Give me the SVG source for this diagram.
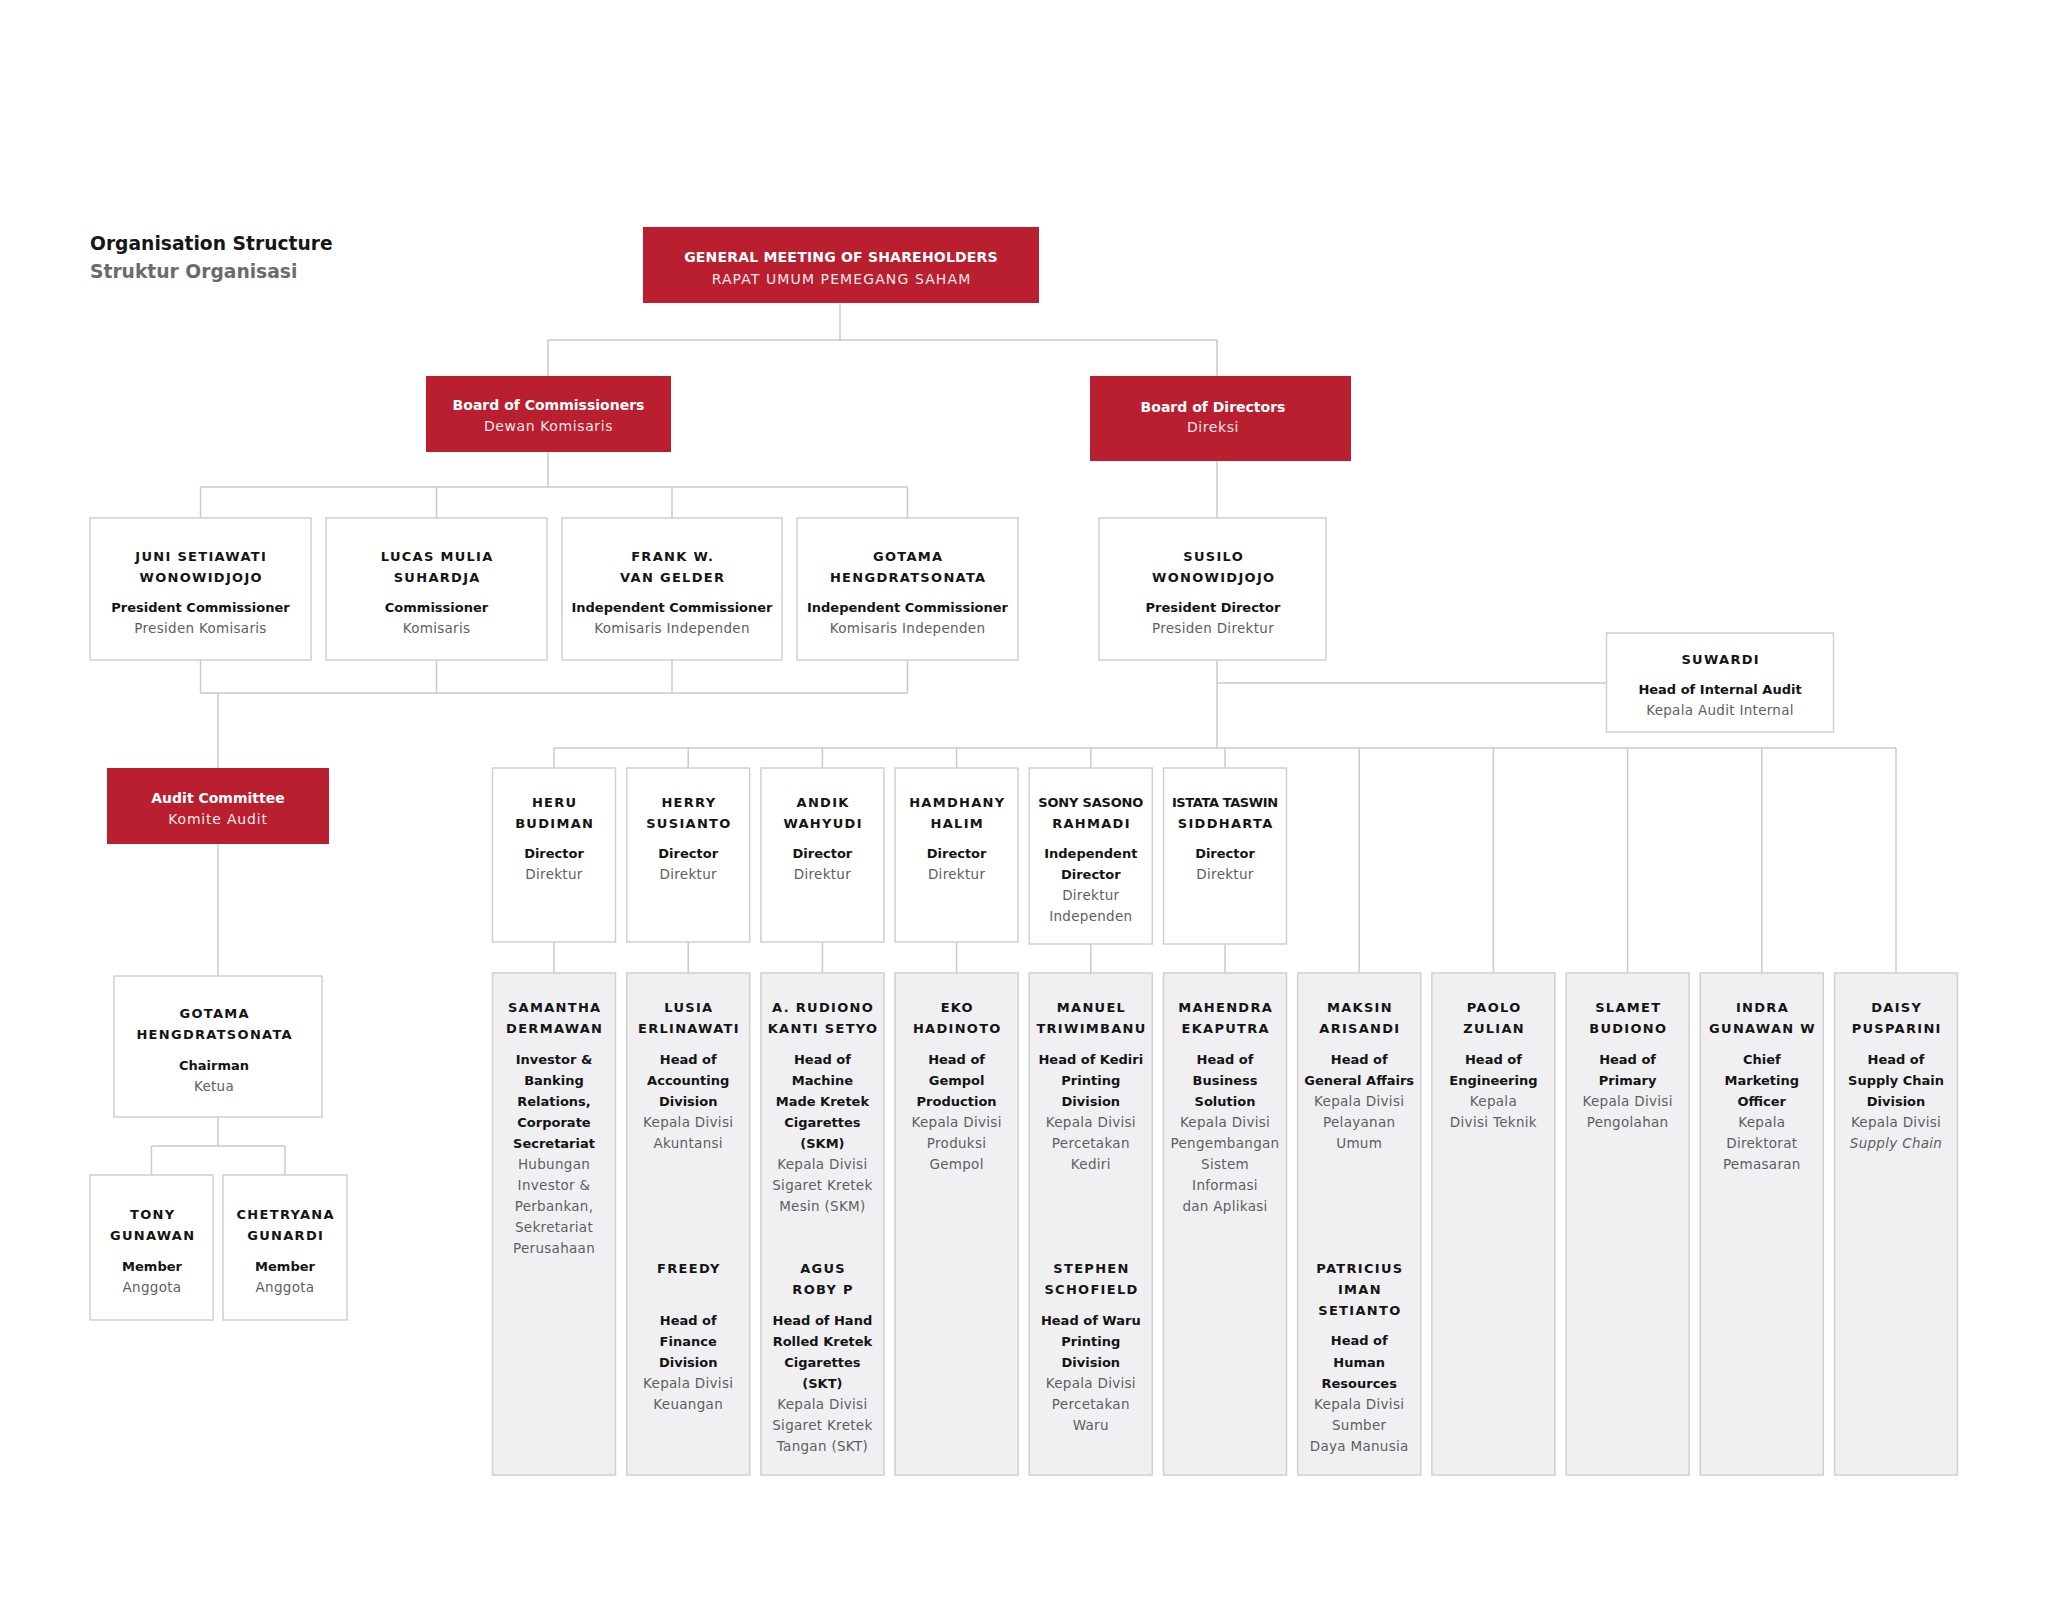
<svg xmlns="http://www.w3.org/2000/svg" width="2048" height="1622" viewBox="0 0 2048 1622">
<style>
text{font-family:'DejaVu Sans',sans-serif;text-anchor:middle}
.conn{fill:none;stroke:#cacaca;stroke-width:1.5}
.red{fill:#B91F2F}
.wb{fill:#fff;stroke:#d0d0d0;stroke-width:1.5}
.gb{fill:#f0f0f2;stroke:#cfcfcf;stroke-width:1.5}
.nm{font-size:13px;font-weight:700;letter-spacing:1.3px;fill:#141414}
.rl{font-size:13px;font-weight:700;fill:#141414}
.id{font-size:13.5px;letter-spacing:0.3px;fill:#5e5e5e}
.rt1{font-size:14px;font-weight:700;fill:#fff}
.rt2{font-size:14px;fill:#fff;fill-opacity:.92}
.ttl{font-size:18.7px;font-weight:700;text-anchor:start}
</style>
<rect width="2048" height="1622" fill="#fff"/>
<g id="title">
<text class="ttl" x="90" y="250" fill="#161616">Organisation Structure</text>
<text class="ttl" x="90" y="278" fill="#6b6b6b">Struktur Organisasi</text>
</g>
<g id="connectors" class="conn">
<path d="M840 303V340M548 340H1217M548 340V376M1217 340V376"/>
<path d="M548 452V487M200.5 487H907.5M200.5 487V518M436.5 487V518M672 487V518M907.5 487V518"/>
<path d="M200.5 660V693M436.5 660V693M672 660V693M907.5 660V693M200.5 693H907.5M218 693V768"/>
<path d="M218 844V976M218 1117V1146M151.5 1146H285M151.5 1146V1175M285 1146V1175"/>
<path d="M1217 461V518M1217 660V748M1217 683H1606.5"/>
<path d="M554 748H1896"/>
<path d="M554 748V768M688.2 748V768M822.4 748V768M956.6 748V768M1090.8 748V768M1225 748V768"/>
<path d="M554 942V973M688.2 942V973M822.4 942V973M956.6 942V973M1090.8 944V973M1225 944V973"/>
<path d="M1359.2 748V973M1493.4 748V973M1627.6 748V973M1761.8 748V973M1896 748V973"/>
</g>
<g id="gms">
<rect class="red" x="643" y="227" width="396" height="76"/>
<text class="rt1" x="841" y="262" style="letter-spacing:0.2px">GENERAL MEETING OF SHAREHOLDERS</text>
<text class="rt2" x="841.5" y="283.5" style="letter-spacing:1.1px">RAPAT UMUM PEMEGANG SAHAM</text>
</g>
<g id="boc">
<rect class="red" x="426" y="376" width="245" height="76"/>
<text class="rt1" x="548.5" y="410">Board of Commissioners</text>
<text class="rt2" x="548.5" y="431" style="letter-spacing:0.6px">Dewan Komisaris</text>
</g>
<g id="bod">
<rect class="red" x="1090" y="376" width="261" height="85"/>
<text class="rt1" x="1213" y="412">Board of Directors</text>
<text class="rt2" x="1213" y="432" style="letter-spacing:0.6px">Direksi</text>
</g>
<g id="com1">
<rect class="wb" x="90" y="518" width="221" height="142"/>
<text class="nm" y="561"><tspan x="201.2">JUNI SETIAWATI</tspan><tspan x="201.2" dy="21">WONOWIDJOJO</tspan></text>
<text class="rl" x="200.5" y="612">President Commissioner</text>
<text class="id" x="200.5" y="633">Presiden Komisaris</text>
</g>
<g id="com2">
<rect class="wb" x="326" y="518" width="221" height="142"/>
<text class="nm" y="561"><tspan x="437.2">LUCAS MULIA</tspan><tspan x="437.2" dy="21">SUHARDJA</tspan></text>
<text class="rl" x="436.5" y="612">Commissioner</text>
<text class="id" x="436.5" y="633">Komisaris</text>
</g>
<g id="com3">
<rect class="wb" x="562" y="518" width="220" height="142"/>
<text class="nm" y="561"><tspan x="672.7">FRANK W.</tspan><tspan x="672.7" dy="21">VAN GELDER</tspan></text>
<text class="rl" x="672" y="612">Independent Commissioner</text>
<text class="id" x="672" y="633">Komisaris Independen</text>
</g>
<g id="com4">
<rect class="wb" x="797" y="518" width="221" height="142"/>
<text class="nm" y="561"><tspan x="908.2">GOTAMA</tspan><tspan x="908.2" dy="21">HENGDRATSONATA</tspan></text>
<text class="rl" x="907.5" y="612">Independent Commissioner</text>
<text class="id" x="907.5" y="633">Komisaris Independen</text>
</g>
<g id="presdir">
<rect class="wb" x="1099" y="518" width="227" height="142"/>
<text class="nm" y="561"><tspan x="1213.7">SUSILO</tspan><tspan x="1213.7" dy="21">WONOWIDJOJO</tspan></text>
<text class="rl" x="1213" y="612">President Director</text>
<text class="id" x="1213" y="633">Presiden Direktur</text>
</g>
<g id="suwardi">
<rect class="wb" x="1606.5" y="633" width="227" height="99"/>
<text class="nm" x="1720.7" y="664">SUWARDI</text>
<text class="rl" x="1720" y="694">Head of Internal Audit</text>
<text class="id" x="1720" y="715">Kepala Audit Internal</text>
</g>
<g id="audit">
<rect class="red" x="107" y="768" width="222" height="76"/>
<text class="rt1" x="218" y="803">Audit Committee</text>
<text class="rt2" x="218" y="823.5" style="letter-spacing:0.8px">Komite Audit</text>
</g>
<g id="chairman">
<rect class="wb" x="114" y="976" width="208" height="141"/>
<text class="nm" y="1018"><tspan x="214.7">GOTAMA</tspan><tspan x="214.7" dy="21">HENGDRATSONATA</tspan></text>
<text class="rl" x="214" y="1070">Chairman</text>
<text class="id" x="214" y="1091">Ketua</text>
</g>
<g id="member1">
<rect class="wb" x="90" y="1175" width="123" height="145"/>
<text class="nm" y="1219"><tspan x="152.7">TONY</tspan><tspan x="152.7" dy="21">GUNAWAN</tspan></text>
<text class="rl" x="152" y="1271">Member</text>
<text class="id" x="152" y="1292">Anggota</text>
</g>
<g id="member2">
<rect class="wb" x="223" y="1175" width="124" height="145"/>
<text class="nm" y="1219"><tspan x="285.7">CHETRYANA</tspan><tspan x="285.7" dy="21">GUNARDI</tspan></text>
<text class="rl" x="285" y="1271">Member</text>
<text class="id" x="285" y="1292">Anggota</text>
</g>
<g id="dir1">
<rect class="wb" x="492.5" y="768" width="123" height="174"/>
<text class="nm" y="806.5"><tspan x="554.7">HERU</tspan><tspan x="554.7" dy="21.1">BUDIMAN</tspan></text>
<text class="rl" x="554" y="858">Director</text>
<text class="id" x="554" y="879">Direktur</text>
</g>
<g id="dir2">
<rect class="wb" x="626.7" y="768" width="123" height="174"/>
<text class="nm" y="806.5"><tspan x="688.9">HERRY</tspan><tspan x="688.9" dy="21.1">SUSIANTO</tspan></text>
<text class="rl" x="688.2" y="858">Director</text>
<text class="id" x="688.2" y="879">Direktur</text>
</g>
<g id="dir3">
<rect class="wb" x="760.9" y="768" width="123" height="174"/>
<text class="nm" y="806.5"><tspan x="823.1">ANDIK</tspan><tspan x="823.1" dy="21.1">WAHYUDI</tspan></text>
<text class="rl" x="822.4" y="858">Director</text>
<text class="id" x="822.4" y="879">Direktur</text>
</g>
<g id="dir4">
<rect class="wb" x="895.1" y="768" width="123" height="174"/>
<text class="nm" y="806.5"><tspan x="957.3">HAMDHANY</tspan><tspan x="957.3" dy="21.1">HALIM</tspan></text>
<text class="rl" x="956.6" y="858">Director</text>
<text class="id" x="956.6" y="879">Direktur</text>
</g>
<g id="dir5">
<rect class="wb" x="1029.3" y="768" width="123" height="176"/>
<text class="nm" y="806.5"><tspan x="1090.7" style="letter-spacing:-0.2px">SONY SASONO</tspan><tspan x="1091.5" dy="21.1">RAHMADI</tspan></text>
<text class="rl" y="858"><tspan x="1090.8">Independent</tspan><tspan x="1090.8" dy="21.1">Director</tspan></text>
<text class="id" y="900"><tspan x="1090.8">Direktur</tspan><tspan x="1090.8" dy="21.1">Independen</tspan></text>
</g>
<g id="dir6">
<rect class="wb" x="1163.5" y="768" width="123" height="176"/>
<text class="nm" y="806.5"><tspan x="1224.8" style="letter-spacing:-0.4px">ISTATA TASWIN</tspan><tspan x="1225.7" dy="21.1">SIDDHARTA</tspan></text>
<text class="rl" x="1225" y="858">Director</text>
<text class="id" x="1225" y="879">Direktur</text>
</g>
<g id="div1">
<rect class="gb" x="492.5" y="973" width="123" height="502"/>
<text class="nm" y="1011.6"><tspan x="554.7">SAMANTHA</tspan><tspan x="554.7" dy="21.1">DERMAWAN</tspan></text>
<text class="rl" y="1063.5"><tspan x="554">Investor &amp;</tspan><tspan x="554" dy="21.1">Banking</tspan><tspan x="554" dy="21.1">Relations,</tspan><tspan x="554" dy="21.1">Corporate</tspan><tspan x="554" dy="21.1">Secretariat</tspan></text>
<text class="id" y="1169"><tspan x="554">Hubungan</tspan><tspan x="554" dy="21.1">Investor &amp;</tspan><tspan x="554" dy="21.1">Perbankan,</tspan><tspan x="554" dy="21.1">Sekretariat</tspan><tspan x="554" dy="21.1">Perusahaan</tspan></text>
</g>
<g id="div2">
<rect class="gb" x="626.7" y="973" width="123" height="502"/>
<text class="nm" y="1011.6"><tspan x="688.9">LUSIA</tspan><tspan x="688.9" dy="21.1">ERLINAWATI</tspan></text>
<text class="rl" y="1063.5"><tspan x="688.2">Head of</tspan><tspan x="688.2" dy="21.1">Accounting</tspan><tspan x="688.2" dy="21.1">Division</tspan></text>
<text class="id" y="1126.8"><tspan x="688.2">Kepala Divisi</tspan><tspan x="688.2" dy="21.1">Akuntansi</tspan></text>
<text class="nm" x="688.9" y="1273">FREEDY</text>
<text class="rl" y="1324.7"><tspan x="688.2">Head of</tspan><tspan x="688.2" dy="21.1">Finance</tspan><tspan x="688.2" dy="21.1">Division</tspan></text>
<text class="id" y="1388"><tspan x="688.2">Kepala Divisi</tspan><tspan x="688.2" dy="21.1">Keuangan</tspan></text>
</g>
<g id="div3">
<rect class="gb" x="760.9" y="973" width="123" height="502"/>
<text class="nm" y="1011.6"><tspan x="823.1">A. RUDIONO</tspan><tspan x="823.1" dy="21.1">KANTI SETYO</tspan></text>
<text class="rl" y="1063.5"><tspan x="822.4">Head of</tspan><tspan x="822.4" dy="21.1">Machine</tspan><tspan x="822.4" dy="21.1">Made Kretek</tspan><tspan x="822.4" dy="21.1">Cigarettes</tspan><tspan x="822.4" dy="21.1">(SKM)</tspan></text>
<text class="id" y="1169"><tspan x="822.4">Kepala Divisi</tspan><tspan x="822.4" dy="21.1">Sigaret Kretek</tspan><tspan x="822.4" dy="21.1">Mesin (SKM)</tspan></text>
<text class="nm" y="1273"><tspan x="823.1">AGUS</tspan><tspan x="823.1" dy="21.1">ROBY P</tspan></text>
<text class="rl" y="1324.7"><tspan x="822.4">Head of Hand</tspan><tspan x="822.4" dy="21.1">Rolled Kretek</tspan><tspan x="822.4" dy="21.1">Cigarettes</tspan><tspan x="822.4" dy="21.1">(SKT)</tspan></text>
<text class="id" y="1409.1"><tspan x="822.4">Kepala Divisi</tspan><tspan x="822.4" dy="21.1">Sigaret Kretek</tspan><tspan x="822.4" dy="21.1">Tangan (SKT)</tspan></text>
</g>
<g id="div4">
<rect class="gb" x="895.1" y="973" width="123" height="502"/>
<text class="nm" y="1011.6"><tspan x="957.3">EKO</tspan><tspan x="957.3" dy="21.1">HADINOTO</tspan></text>
<text class="rl" y="1063.5"><tspan x="956.6">Head of</tspan><tspan x="956.6" dy="21.1">Gempol</tspan><tspan x="956.6" dy="21.1">Production</tspan></text>
<text class="id" y="1126.8"><tspan x="956.6">Kepala Divisi</tspan><tspan x="956.6" dy="21.1">Produksi</tspan><tspan x="956.6" dy="21.1">Gempol</tspan></text>
</g>
<g id="div5">
<rect class="gb" x="1029.3" y="973" width="123" height="502"/>
<text class="nm" y="1011.6"><tspan x="1091.5">MANUEL</tspan><tspan x="1091.5" dy="21.1">TRIWIMBANU</tspan></text>
<text class="rl" y="1063.5"><tspan x="1090.8">Head of Kediri</tspan><tspan x="1090.8" dy="21.1">Printing</tspan><tspan x="1090.8" dy="21.1">Division</tspan></text>
<text class="id" y="1126.8"><tspan x="1090.8">Kepala Divisi</tspan><tspan x="1090.8" dy="21.1">Percetakan</tspan><tspan x="1090.8" dy="21.1">Kediri</tspan></text>
<text class="nm" y="1273"><tspan x="1091.5">STEPHEN</tspan><tspan x="1091.5" dy="21.1">SCHOFIELD</tspan></text>
<text class="rl" y="1324.7"><tspan x="1090.8">Head of Waru</tspan><tspan x="1090.8" dy="21.1">Printing</tspan><tspan x="1090.8" dy="21.1">Division</tspan></text>
<text class="id" y="1388"><tspan x="1090.8">Kepala Divisi</tspan><tspan x="1090.8" dy="21.1">Percetakan</tspan><tspan x="1090.8" dy="21.1">Waru</tspan></text>
</g>
<g id="div6">
<rect class="gb" x="1163.5" y="973" width="123" height="502"/>
<text class="nm" y="1011.6"><tspan x="1225.7">MAHENDRA</tspan><tspan x="1225.7" dy="21.1">EKAPUTRA</tspan></text>
<text class="rl" y="1063.5"><tspan x="1225">Head of</tspan><tspan x="1225" dy="21.1">Business</tspan><tspan x="1225" dy="21.1">Solution</tspan></text>
<text class="id" y="1126.8"><tspan x="1225">Kepala Divisi</tspan><tspan x="1225" dy="21.1">Pengembangan</tspan><tspan x="1225" dy="21.1">Sistem</tspan><tspan x="1225" dy="21.1">Informasi</tspan><tspan x="1225" dy="21.1">dan Aplikasi</tspan></text>
</g>
<g id="div7">
<rect class="gb" x="1297.7" y="973" width="123" height="502"/>
<text class="nm" y="1011.6"><tspan x="1359.9">MAKSIN</tspan><tspan x="1359.9" dy="21.1">ARISANDI</tspan></text>
<text class="rl" y="1063.5"><tspan x="1359.2">Head of</tspan><tspan x="1359.2" dy="21.1">General Affairs</tspan></text>
<text class="id" y="1105.7"><tspan x="1359.2">Kepala Divisi</tspan><tspan x="1359.2" dy="21.1">Pelayanan</tspan><tspan x="1359.2" dy="21.1">Umum</tspan></text>
<text class="nm" y="1273"><tspan x="1359.9">PATRICIUS</tspan><tspan x="1359.9" dy="21.1">IMAN</tspan><tspan x="1359.9" dy="21.1">SETIANTO</tspan></text>
<text class="rl" y="1345.4"><tspan x="1359.2">Head of</tspan><tspan x="1359.2" dy="21.1">Human</tspan><tspan x="1359.2" dy="21.1">Resources</tspan></text>
<text class="id" y="1408.7"><tspan x="1359.2">Kepala Divisi</tspan><tspan x="1359.2" dy="21.1">Sumber</tspan><tspan x="1359.2" dy="21.1">Daya Manusia</tspan></text>
</g>
<g id="div8">
<rect class="gb" x="1431.9" y="973" width="123" height="502"/>
<text class="nm" y="1011.6"><tspan x="1494.1">PAOLO</tspan><tspan x="1494.1" dy="21.1">ZULIAN</tspan></text>
<text class="rl" y="1063.5"><tspan x="1493.4">Head of</tspan><tspan x="1493.4" dy="21.1">Engineering</tspan></text>
<text class="id" y="1105.7"><tspan x="1493.4">Kepala</tspan><tspan x="1493.4" dy="21.1">Divisi Teknik</tspan></text>
</g>
<g id="div9">
<rect class="gb" x="1566.1" y="973" width="123" height="502"/>
<text class="nm" y="1011.6"><tspan x="1628.3">SLAMET</tspan><tspan x="1628.3" dy="21.1">BUDIONO</tspan></text>
<text class="rl" y="1063.5"><tspan x="1627.6">Head of</tspan><tspan x="1627.6" dy="21.1">Primary</tspan></text>
<text class="id" y="1105.7"><tspan x="1627.6">Kepala Divisi</tspan><tspan x="1627.6" dy="21.1">Pengolahan</tspan></text>
</g>
<g id="div10">
<rect class="gb" x="1700.3" y="973" width="123" height="502"/>
<text class="nm" y="1011.6"><tspan x="1762.5">INDRA</tspan><tspan x="1762.5" dy="21.1">GUNAWAN W</tspan></text>
<text class="rl" y="1063.5"><tspan x="1761.8">Chief</tspan><tspan x="1761.8" dy="21.1">Marketing</tspan><tspan x="1761.8" dy="21.1">Officer</tspan></text>
<text class="id" y="1126.8"><tspan x="1761.8">Kepala</tspan><tspan x="1761.8" dy="21.1">Direktorat</tspan><tspan x="1761.8" dy="21.1">Pemasaran</tspan></text>
</g>
<g id="div11">
<rect class="gb" x="1834.5" y="973" width="123" height="502"/>
<text class="nm" y="1011.6"><tspan x="1896.7">DAISY</tspan><tspan x="1896.7" dy="21.1">PUSPARINI</tspan></text>
<text class="rl" y="1063.5"><tspan x="1896">Head of</tspan><tspan x="1896" dy="21.1">Supply Chain</tspan><tspan x="1896" dy="21.1">Division</tspan></text>
<text class="id" y="1126.8"><tspan x="1896">Kepala Divisi</tspan><tspan x="1896" dy="21.1" font-style="italic">Supply Chain</tspan></text>
</g>
</svg>
